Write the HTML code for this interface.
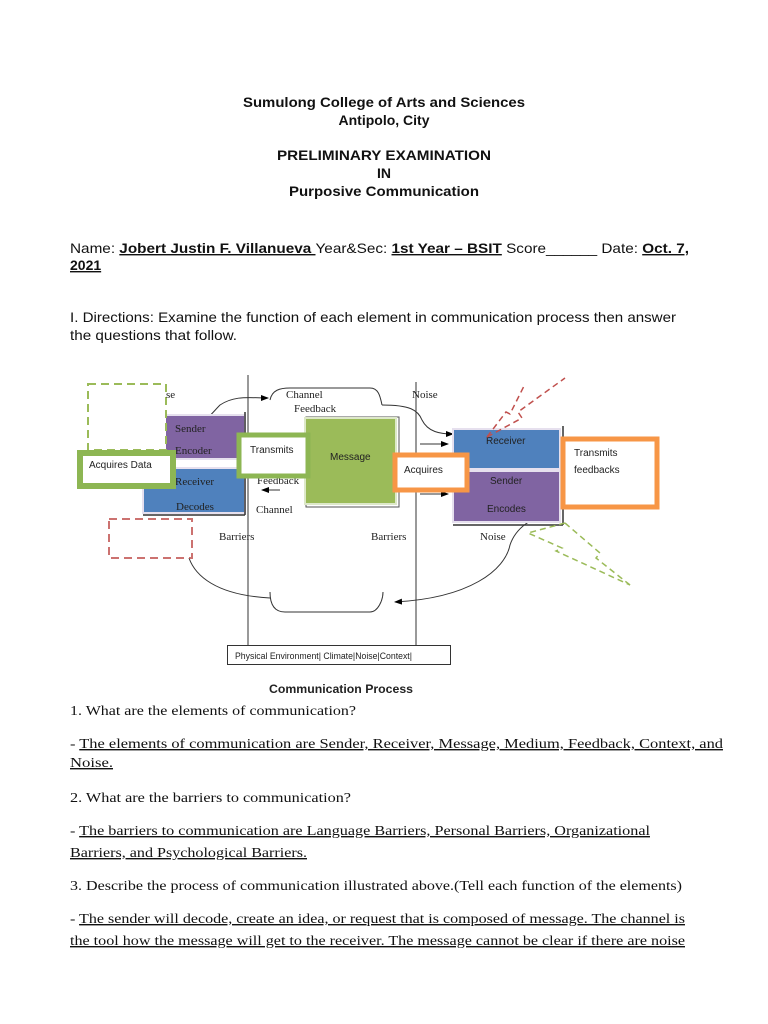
<!DOCTYPE html>
<html><head><meta charset="utf-8"><style>html,body{margin:0;padding:0;background:#fff}svg{display:block}</style></head>
<body>
<svg width="768" height="1024" viewBox="0 0 768 1024" xmlns="http://www.w3.org/2000/svg">
<defs>
<marker id="ah" markerWidth="8" markerHeight="8" refX="7" refY="4" orient="auto"><path d="M0,1 L8,4 L0,7z" fill="#000"/></marker>
</defs>
<g font-family="Liberation Sans, Arial, sans-serif" font-size="14" font-weight="bold" text-anchor="middle" fill="#111">
<text x="384" y="107" textLength="282" lengthAdjust="spacingAndGlyphs">Sumulong College of Arts and Sciences</text>
<text x="384" y="125">Antipolo, City</text>
<text x="384" y="160" textLength="214" lengthAdjust="spacingAndGlyphs">PRELIMINARY EXAMINATION</text>
<text x="384" y="178">IN</text>
<text x="384" y="196" textLength="190" lengthAdjust="spacingAndGlyphs">Purposive Communication</text>
</g>
<g font-family="Liberation Sans, Arial, sans-serif" font-size="14" fill="#111">
<text x="70" y="253" textLength="619" lengthAdjust="spacingAndGlyphs">Name: <tspan font-weight="bold" text-decoration="underline">Jobert Justin F. Villanueva </tspan>Year&amp;Sec: <tspan font-weight="bold" text-decoration="underline">1st Year – BSIT</tspan> Score______ Date: <tspan font-weight="bold" text-decoration="underline">Oct. 7, </tspan></text>
<text x="70" y="270" font-weight="bold" text-decoration="underline">2021</text>
<text x="70" y="322" textLength="606" lengthAdjust="spacingAndGlyphs">I. Directions: Examine the function of each element in communication process then answer</text>
<text x="70" y="340" textLength="167" lengthAdjust="spacingAndGlyphs">the questions that follow.</text>
</g>
<g fill="none" stroke="#333" stroke-width="1">
<line x1="248" y1="375" x2="248" y2="645"/>
<line x1="416" y1="382" x2="416" y2="645"/>
<path d="M185,428 C205,425 210,415 220,405 C235,395 250,398 268,398" marker-end="url(#ah)"/>
<path d="M270,400 C272,390 280,388 290,388 L370,388 C378,388 380,395 382,405"/>
<path d="M382,405 C410,405 418,410 422,420 C428,432 440,434 453,434" marker-end="url(#ah)"/>
<path d="M560,512 C530,515 515,530 510,545 C505,570 470,598 395,602" marker-end="url(#ah)"/>
<path d="M189,558 C195,575 215,595 270,598"/>
<path d="M270,592 C270,605 275,612 285,612 L370,612 C378,612 383,600 383,592"/>
<path d="M420,444 L448,444" marker-end="url(#ah)"/>
<path d="M420,494 L448,494" marker-end="url(#ah)"/>
<path d="M280,490 L262,490" marker-end="url(#ah)"/>
</g>
<rect x="165" y="415" width="80" height="44" fill="#8064a2" stroke="#e6e0ee" stroke-width="2"/>
<rect x="143" y="468" width="102" height="45" fill="#4f81bd" stroke="#e6e0ee" stroke-width="2"/>
<line x1="245" y1="412" x2="245" y2="515" stroke="#333" stroke-width="1.5"/>
<line x1="143" y1="515" x2="245" y2="515" stroke="#333" stroke-width="1.5"/>
<rect x="88" y="384" width="78" height="66" fill="#fff" stroke="#9bbb59" stroke-width="2" stroke-dasharray="8,5"/>
<rect x="109" y="519" width="83" height="39" fill="#fff" stroke="#c0504d" stroke-width="2" stroke-dasharray="8,5" opacity="0.8"/>
<g font-family="Liberation Serif, serif" font-size="11" fill="#222">
<text x="175" y="432">Sender</text>
<text x="175" y="454">Encoder</text>
<text x="175" y="485">Receiver</text>
<text x="176" y="510">Decodes</text>
<text x="286" y="398">Channel</text>
<text x="294" y="412">Feedback</text>
<text x="257" y="484">Feedback</text>
<text x="256" y="513">Channel</text>
<text x="219" y="540">Barriers</text>
<text x="371" y="540">Barriers</text>
<text x="412" y="398">Noise</text>
<text x="480" y="540">Noise</text>
<text x="166" y="398">se</text>
</g>
<rect x="80" y="453" width="93" height="33" fill="#fff" stroke="#8db653" stroke-width="6"/>
<text x="89" y="468" font-family="Liberation Sans, sans-serif" font-size="10" fill="#222">Acquires Data</text>
<rect x="306" y="417" width="93" height="90" fill="#fff" stroke="#555" stroke-width="1"/>
<rect x="305" y="418" width="91" height="86" fill="#9bbb59" stroke="#dde8c9" stroke-width="2"/>
<text x="330" y="460" font-family="Liberation Sans, sans-serif" font-size="10" fill="#222">Message</text>
<rect x="239" y="435" width="69" height="41" fill="#fff" stroke="#8db653" stroke-width="5"/>
<text x="250" y="453" font-family="Liberation Sans, sans-serif" font-size="10" fill="#222">Transmits</text>
<rect x="453" y="429" width="107" height="40" fill="#4f81bd" stroke="#e6e0ee" stroke-width="2"/>
<rect x="453" y="471" width="107" height="51" fill="#8064a2" stroke="#e6e0ee" stroke-width="2"/>
<line x1="563" y1="426" x2="563" y2="525" stroke="#333" stroke-width="1.5"/>
<line x1="453" y1="525" x2="563" y2="525" stroke="#333" stroke-width="1.5"/>
<g font-family="Liberation Sans, sans-serif" font-size="10" fill="#222">
<text x="486" y="444">Receiver</text>
<text x="490" y="484">Sender</text>
<text x="487" y="512">Encodes</text>
</g>
<rect x="395" y="455" width="72" height="35" fill="#fff" stroke="#f79646" stroke-width="5"/>
<text x="404" y="473" font-family="Liberation Sans, sans-serif" font-size="10" fill="#222">Acquires</text>
<rect x="563" y="439" width="94" height="68" fill="#fff" stroke="#f79646" stroke-width="5"/>
<text x="574" y="456" font-family="Liberation Sans, sans-serif" font-size="10" fill="#222">Transmits</text>
<text x="574" y="473" font-family="Liberation Sans, sans-serif" font-size="10" fill="#222">feedbacks</text>
<g fill="none" stroke-width="1.5" stroke-dasharray="6,4">
<path d="M487,437 L506,412 L510,414 L525,384" stroke="#c0504d"/>
<path d="M487,437 L522,418 L518,412 L565,378" stroke="#c0504d"/>
<path d="M565,523 L528,533 L562,548 L556,551 L630,585" stroke="#9bbb59"/>
<path d="M565,523 L600,553 L596,558 L630,585" stroke="#9bbb59"/>
</g>
<rect x="227.5" y="645.5" width="223" height="19" fill="#fff" stroke="#333" stroke-width="1"/>
<text x="235" y="659" font-family="Liberation Sans, sans-serif" font-size="9" fill="#222" textLength="177" lengthAdjust="spacingAndGlyphs">Physical Environment| Climate|Noise|Context|</text>
<text x="341" y="693" text-anchor="middle" font-family="Liberation Sans, sans-serif" font-size="12" font-weight="bold" fill="#222" textLength="144" lengthAdjust="spacingAndGlyphs">Communication Process</text>
<g font-family="Liberation Serif, serif" font-size="14" fill="#111">
<text x="70" y="715" textLength="286" lengthAdjust="spacingAndGlyphs">1. What are the elements of communication?</text>
<text x="70" y="748" textLength="653" lengthAdjust="spacingAndGlyphs">- <tspan text-decoration="underline">The elements of communication are Sender, Receiver, Message, Medium, Feedback, Context, and</tspan></text>
<text x="70" y="767" text-decoration="underline" textLength="43" lengthAdjust="spacingAndGlyphs">Noise. </text>
<text x="70" y="802" textLength="281" lengthAdjust="spacingAndGlyphs">2. What are the barriers to communication?</text>
<text x="70" y="835" textLength="580" lengthAdjust="spacingAndGlyphs">- <tspan text-decoration="underline">The barriers to communication are Language Barriers, Personal Barriers, Organizational </tspan></text>
<text x="70" y="857" text-decoration="underline" textLength="237" lengthAdjust="spacingAndGlyphs">Barriers, and Psychological Barriers. </text>
<text x="70" y="890" textLength="612" lengthAdjust="spacingAndGlyphs">3. Describe the process of communication illustrated above.(Tell each function of the elements)</text>
<text x="70" y="923" textLength="615" lengthAdjust="spacingAndGlyphs">- <tspan text-decoration="underline">The sender will decode, create an idea, or request that is composed of message. The channel is</tspan></text>
<text x="70" y="945" text-decoration="underline" textLength="615" lengthAdjust="spacingAndGlyphs">the tool how the message will get to the receiver. The message cannot be clear if there are noise </text>
</g>
</svg>
</body></html>
